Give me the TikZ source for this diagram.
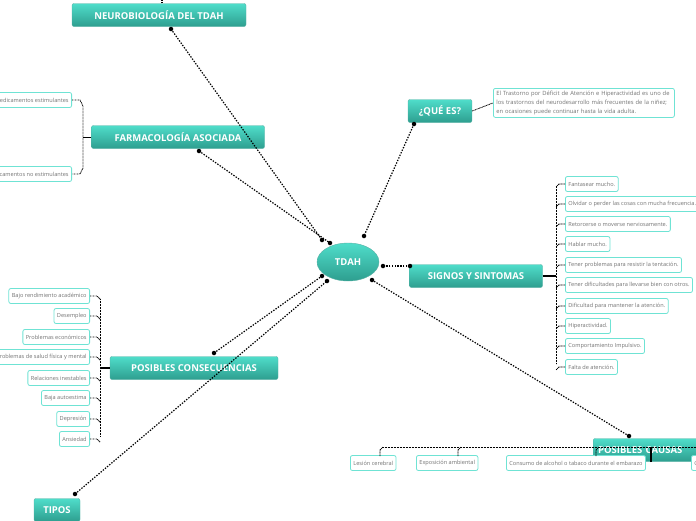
\documentclass[tikz,border=0pt]{standalone}
\usepackage{fontspec}
\setmainfont{Open Sans}
\usetikzlibrary{shapes.geometric}
\begin{document}
\begin{tikzpicture}[x=1pt,y=-1pt,
 main/.style={rounded corners=2pt,top color=teal1,bottom color=teal2,draw=teal2!80,text=white,font=\bfseries\fontsize{9.5}{11}\selectfont,inner sep=0pt,minimum height=23pt},
 leaf/.style={rounded corners=2pt,draw=leafc,line width=0.8pt,fill=white,text=gray!90!black,font=\fontsize{5.6}{7}\selectfont,inner xsep=3pt,minimum height=15pt},
 conn/.style={dash pattern=on 1.4pt off 1.4pt,line width=1.2pt},
 sub/.style={dash pattern=on 0.9pt off 0.6pt,line width=0.8pt},
 dotend/.style={circle,fill=black,inner sep=0pt,minimum size=4.5pt}]
\definecolor{teal1}{HTML}{4FDDCA}
\definecolor{teal2}{HTML}{2E9E8F}
\definecolor{leafc}{HTML}{6FE3D4}
\useasboundingbox (0,0) rectangle (696,520);
\clip (0,0) rectangle (696,520);
% main nodes
\node[ellipse,top color=teal1,bottom color=teal2,minimum width=62pt,minimum height=38pt,text=white,font=\bfseries\fontsize{9.5}{11}\selectfont,inner sep=0pt,draw=teal2!80] (t) at (348,262) {TDAH};
\node[main,minimum width=174pt] (neu) at (159,15) {NEUROBIOLOGÍA DEL TDAH};
\node[main,minimum width=173pt] (far) at (178,137) {FARMACOLOGÍA ASOCIADA};
\node[main,minimum width=64pt] (que) at (440,111) {¿QUÉ ES?};
\node[main,minimum width=133pt] (sig) at (476,276) {SIGNOS Y SINTOMAS};
\node[main,minimum width=130pt,anchor=west,text width=120pt,align=left,inner xsep=5pt] (cau) at (593,450) {POSIBLES CAUSAS};
\node[main,minimum width=168pt] (con) at (194,368) {POSIBLES CONSECUENCIAS};
\node[main,minimum width=46pt] (tip) at (57,510) {TIPOS};
% main connectors
\coordinate (top) at (162,0);
\draw[conn] (neu.north) ++(3,0) -- (top);
\foreach \a/\b/\c/\d in {171/29/322/240, 199/151/330/243, 414/124/364/236, 410/266/383/266, 214/353/322/276, 75/494/327/281, 629/436/372/280}{
 \draw[conn] (\a,\b) -- (\c,\d);
 \node[dotend] at (\a,\b) {};\node[dotend] at (\c,\d) {};
}
% description
\node[leaf,anchor=north west,text width=175pt,align=left,inner sep=3pt,font=\fontsize{5.8}{8.6}\selectfont] (d) at (493,88) {El Trastorno por Déficit de Atención e Hiperactividad es uno de los trastornos del neurodesarrollo más frecuentes de la niñez; en ocasiones puede continuar hasta la vida adulta.};
\draw[sub] (que.east) -- (d.west);
% farmacologia leaves
\node[leaf,anchor=east] (f1) at (72,100) {Medicamentos estimulantes};
\node[leaf,anchor=east] (f2) at (72,174) {Medicamentos  no estimulantes};
\draw[line width=1pt] (far.west) -- (83,137);
\draw[sub] (f1.east) -- (80,100) -- (83,106) -- (83,168) -- (80,174) -- (f2.east);
% consequences leaves
\draw[line width=1.2pt] (con.west) -- (100,368);
\foreach \i/\y/\tx in {1/296/Bajo rendimiento académico,2/316/Desempleo,3/337/Problemas económicos,4/357/Problemas de salud física y mental,5/378/Relaciones inestables,6/398/Baja autoestima,7/419/Depresión,8/439/Ansiedad}{
 \node[leaf,anchor=east] (c\i) at (90,\y) {\tx};
 \draw[sub] (c\i.east) -- (97,\y) -- (100,\y+3);
}
\draw[sub] (100,299) -- (100,436);
% signs leaves
\draw[line width=1.2pt] (sig.east) -- (556,276);
\foreach \i/\y/\tx in {1/184/Fantasear mucho.,2/204/Olvidar o perder las cosas con mucha frecuencia.,3/224/Retorcerse o moverse nerviosamente.,4/244/Hablar mucho.,5/265/Tener problemas para resistir la tentación.,6/285/Tener dificultades para llevarse bien con otros.,7/306/Dificultad para mantener la atención.,8/326/Hiperactividad.,9/346/Comportamiento Impulsivo.,10/367/Falta de atención.}{
 \node[leaf,anchor=west] (s\i) at (565,\y) {\tx};
 \draw[sub] (s\i.west) -- (559,\y) -- (556,\y+3);
}
\draw[sub] (556,187) -- (556,364);
% causes leaves
\draw[line width=1.2pt] (651,462) -- (651,447);
\node[leaf,anchor=west] (k1) at (350,463) {Lesión cerebral};
\node[leaf,anchor=west] (k2) at (416,463) {Exposición ambiental};
\node[leaf,anchor=west] (k3) at (506,463) {Consumo de alcohol o tabaco durante el embarazo};
\node[leaf,anchor=west] (k4) at (691,463) {Genética};
\draw[sub] (383,447) -- (700,447);
\foreach \x in {380,458,596}{\draw[sub] (\x,456) -- (\x,450) -- (\x+3,447);}
\draw[sub] (700,447) -- (700,455);
\end{tikzpicture}
\end{document}
